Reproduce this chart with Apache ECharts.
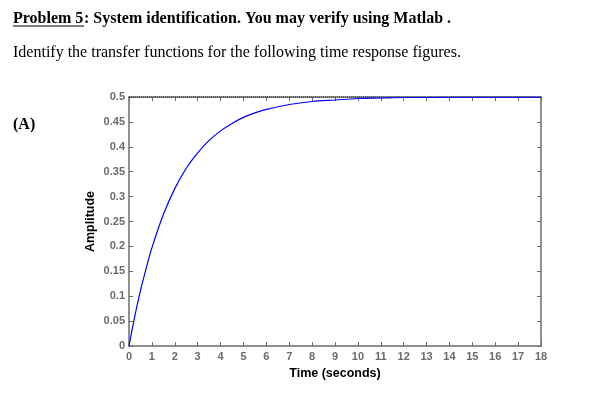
<!DOCTYPE html>
<html><head><meta charset="utf-8">
<script src="https://cdn.jsdelivr.net/npm/echarts@6/dist/echarts.min.js"></script>
<style>html,body{margin:0;padding:0;background:#fff}#c{width:597px;height:417px}</style>
</head><body><div id="c"></div>
<script>
// time (s) and amplitude
var times = [0,0.25,0.5,0.75,1,1.5,2,2.5,3,3.5,4,4.5,5,5.5,6,7,8,9,10,11,12,13,14,15,16,17,18];
var amplitude = [0,0.059,0.111,0.156,0.197,0.264,0.316,0.357,0.388,0.413,0.432,0.447,0.459,0.468,0.475,0.485,0.491,0.494,0.497,0.498,0.499,0.499,0.4995,0.4997,0.4998,0.4999,0.4999];
var steadyState = 0.5;
var xTicks = {min:0, max:18, interval:1};
var yTicks = {min:0, max:0.5, interval:0.05};
var titleText = 'Problem 5';
var titleRest = ': System identification. You may verify using Matlab .';
var subText = 'Identify the transfer functions for the following time response figures.';
var partLabel = '(A)';

var chart = echarts.init(document.getElementById('c'));
var axisGray = '#6b6b6b';
var labelGray = '#6a6a72';
function mkAxisBase(extra){
  return Object.assign({
    axisLine:{show:true,onZero:false,lineStyle:{color:axisGray,width:1.5}},
    axisTick:{show:true,inside:true,length:4,lineStyle:{color:axisGray,width:1}},
    splitLine:{show:false}
  }, extra);
}
var curve = times.map(function(t,i){return [t, amplitude[i]];});
chart.setOption({
  animation:false,
  grid:{left:129,top:97,width:412,height:249,containLabel:false},
  xAxis:[
    mkAxisBase({type:'value',position:'bottom',min:xTicks.min,max:xTicks.max,interval:xTicks.interval,
      name:'Time (seconds)',nameLocation:'middle',nameGap:21,nameMoveOverlap:false,
      nameTextStyle:{fontFamily:'Liberation Sans',fontWeight:'bold',fontSize:12.5,color:'#000'},
      axisLabel:{fontFamily:'Liberation Sans',fontWeight:'bold',fontSize:11,color:labelGray,margin:5}}),
    mkAxisBase({type:'value',position:'top',min:xTicks.min,max:xTicks.max,interval:xTicks.interval,axisLabel:{show:false}})
  ],
  yAxis:[
    mkAxisBase({type:'value',position:'left',min:yTicks.min,max:yTicks.max,interval:yTicks.interval,
      name:'Amplitude',nameLocation:'middle',nameGap:32,nameMoveOverlap:false,
      nameTextStyle:{fontFamily:'Liberation Sans',fontWeight:'bold',fontSize:12.5,color:'#000'},
      axisLabel:{fontFamily:'Liberation Sans',fontWeight:'bold',fontSize:11,color:labelGray,margin:4,
        formatter:function(v){return String(+v.toFixed(2));}}}),
    mkAxisBase({type:'value',position:'right',min:yTicks.min,max:yTicks.max,interval:yTicks.interval,axisLabel:{show:false}})
  ],
  series:[
    {type:'line',data:[[xTicks.min,steadyState],[xTicks.max,steadyState]],symbol:'none',z:2,
      lineStyle:{color:'#000',width:1,type:'dotted'}},
    {type:'line',data:curve,symbol:'none',smooth:0.3,z:3,
      lineStyle:{color:'#0000ff',width:1.2}}
  ],
  graphic:[
    {type:'text',left:13,top:11,style:{text:titleText,font:'bold 16px "Liberation Serif"',fill:'#000'}},
    {type:'text',left:84,top:11,style:{text:titleRest,font:'bold 16px "Liberation Serif"',fill:'#000'}},
    {type:'line',shape:{x1:13,y1:26,x2:84,y2:26},style:{stroke:'#000',lineWidth:1.2}},
    {type:'text',left:13,top:45,style:{text:subText,font:'16px "Liberation Serif"',fill:'#000'}},
    {type:'text',left:13,top:117,style:{text:partLabel,font:'bold 16px "Liberation Serif"',fill:'#000'}}
  ]
});
</script></body></html>
